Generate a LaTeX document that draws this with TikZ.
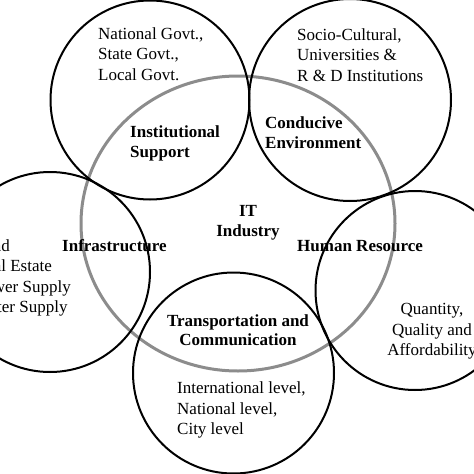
\documentclass[tikz,border=0pt]{standalone}
\usepackage{fontspec}
\setmainfont{Liberation Serif}

\begin{document}
\begin{tikzpicture}[x=1pt, y=-1pt,
    ring/.style={line width=2pt},
    hub/.style={line width=3pt, draw=gray!90},
    note/.style={inner sep=0pt, font=\fontsize{17}{20.5}\selectfont},
    theme/.style={inner sep=0pt, font=\fontsize{17}{20}\selectfont\bfseries}]
    % Page frame
    \useasboundingbox (0,0) rectangle (474,474);
    \clip (0,0) rectangle (474,474);

    % Central ring (IT industry)
    \draw[hub] (238,223.5) ellipse [x radius=157pt, y radius=147.5pt];

    % Outer circles
    \draw[ring] (150,100) circle [radius=99.5pt];
    \draw[ring] (350,100) circle [radius=101pt];
    \draw[ring] (50,272) circle [radius=100pt];
    \draw[ring] (415,290.5) circle [radius=99.5pt];
    \draw[ring] (233.5,373) circle [radius=100.5pt];

    % Factors inside the ring
    \node[theme, anchor=north, align=center] (it) at (248,205) {IT\\Industry};
    \node[theme, anchor=north west, align=left] (inst) at (130,125.5) {Institutional\\Support};
    \node[theme, anchor=north west, align=left] (cond) at (265,116.5) {Conducive\\Environment};
    \node[theme, anchor=west] (infra) at (62,246) {Infrastructure};
    \node[theme, anchor=west] (human) at (297,246) {Human Resource};
    \node[theme, anchor=north, align=center, font=\fontsize{17}{19}\selectfont\bfseries] (trans) at (238,314.5) {Transportation and\\Communication};

    % Details in the outer circles
    \node[note, anchor=north west, align=left] (govt) at (98,27.5) {National Govt.,\\State Govt.,\\Local Govt.};
    \node[note, anchor=north west, align=left] (socio) at (297,28.5) {Socio-Cultural,\\Universities \&\\R \& D Institutions};
    \node[note, anchor=north east, align=left] (land) at (71,239.5) {Land\\Real Estate\\Power Supply\\Water Supply};
    \node[note, anchor=north, align=center] (qty) at (432,303.5) {Quantity,\\Quality and\\Affordability};
    \node[note, anchor=north west, align=left] (level) at (177,381.5) {International level,\\National level,\\City level};
\end{tikzpicture}
\end{document}
